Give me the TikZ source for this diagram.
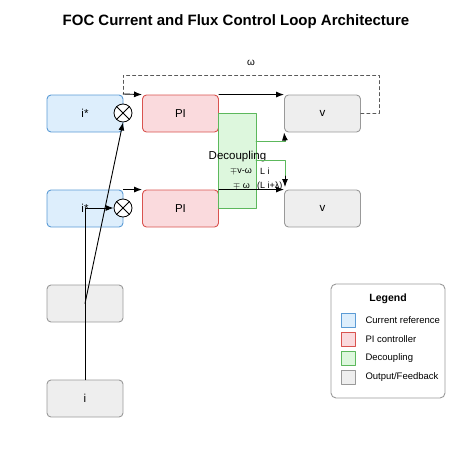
\documentclass[tikz,border=0pt]{standalone}
\usepackage{fontspec}
\setmainfont{Liberation Sans}
\usetikzlibrary{arrows,arrows.meta}

\definecolor{refFill}{HTML}{DDEEFC}
\definecolor{refLine}{HTML}{5B9BD5}
\definecolor{piFill}{HTML}{FADADD}
\definecolor{piLine}{HTML}{D9534F}
\definecolor{decFill}{HTML}{DDF7DD}
\definecolor{decLine}{HTML}{5CB85C}
\definecolor{outFill}{HTML}{EEEEEE}
\definecolor{outLine}{HTML}{999999}

\tikzset{
  box/.style={draw, rounded corners=4pt, minimum width=76pt, minimum height=37pt, inner sep=0pt, line width=0.9pt, font=\fontsize{11.5}{13}\selectfont},
  refbox/.style={box, draw=refLine, fill=refFill},
  pibox/.style={box, draw=piLine, fill=piFill},
  outbox/.style={box, draw=outLine, fill=outFill},
  decbox/.style={draw=decLine, fill=decFill, line width=0.9pt, minimum width=38pt, minimum height=95pt, inner sep=0pt},
  swatch/.style={draw, line width=0.9pt, minimum size=14pt, inner sep=0pt},
  mult/.style={circle, draw, fill=white, minimum size=18pt, inner sep=0pt, line width=0.8pt},
  arr/.style={-{Latex[length=8pt,width=6pt]}, line width=0.9pt},
  small/.style={font=\fontsize{9}{10}\selectfont, inner sep=1pt},
  legtext/.style={anchor=west, font=\fontsize{9.5}{11}\selectfont},
}

\begin{document}
\begin{tikzpicture}[x=1pt, y=-1pt, line cap=round, line join=round]

\useasboundingbox (0,0) rectangle (474,474);

% title
\node[font=\bfseries\fontsize{15}{17}\selectfont] (title) at (236,22) {FOC Current and Flux Control Loop Architecture};

% top row
\node[refbox] (ref1) at (85,113.5) {i*};
\node[pibox]  (pi1)  at (180.5,113.5) {PI};
\node[outbox] (out1) at (322.5,113.5) {v};

% bottom row
\node[refbox] (ref2) at (85,208.5) {i*};
\node[pibox]  (pi2)  at (180.5,208.5) {PI};
\node[outbox] (out2) at (322.5,208.5) {v};

% feedback path
\node[outbox] (fb)   at (85,303.5) {};
\node[outbox] (meas) at (85,398.5) {i};

% decoupling
\node[decbox] (dec) at (237,160.5) {};
\node[font=\fontsize{11.5}{13}\selectfont] (declabel) at (237.5,157) {Decoupling};
\node[small, anchor=west] (deca) at (229,171) {$\mp$v-ω};
\node[small, anchor=west] (decb) at (259,171) {L i};
\node[small, anchor=west] (decc) at (232,186) {$\mp$ ω};
\node[small, anchor=west] (decd) at (256,186) {(L i+λ)};

% multipliers
\node[mult] (mult1) at (123,113) {};
\node[mult] (mult2) at (123,208) {};
\draw[line width=0.8pt] (mult1.north west) -- (mult1.south east) (mult1.north east) -- (mult1.south west);
\draw[line width=0.8pt] (mult2.north west) -- (mult2.south east) (mult2.north east) -- (mult2.south west);

% omega feedback
\coordinate (wturn) at (123,94);
\draw[dashed, line width=1pt, black!65] (out1.east) -- (379,113.5) -- (379,75) -- (123,75) -- (wturn);
\node[font=\fontsize{10}{12}\selectfont] (wlabel) at (251,63) {ω};
\draw[arr] (wturn) -- (pi1.north west);

% forward paths
\draw[arr] (pi1.north east) -- (out1.north west);
\draw[arr] (ref2.north east) -- (pi2.north west);
\draw[arr] (pi2.north east) -- (out2.north west);

% decoupling outputs
\coordinate (dectop) at (256,141);
\coordinate (decbot) at (256,160);
\coordinate (decend) at (285,187);
\draw[decLine, line width=0.9pt] (dectop) -- (285,141) -- (285,138);
\draw[arr] (285,141) -- (out1.south west);
\draw[decLine, line width=0.9pt] (decbot) -- (285,160) -- (285,178);
\draw[arr] (285,176) -- (decend);

% measured current
\draw[arr] (meas.north) -- (85,208) -- (mult2.west);
\draw[arr] (fb.center) -- (mult1.south);

% legend
\node[draw=outLine, rounded corners=5pt, line width=0.9pt, minimum width=114pt, minimum height=114pt] (legend) at (388,341) {};
\node[font=\bfseries\fontsize{10.5}{12}\selectfont] (legtitle) at (388,299) {Legend};
\node[swatch, draw=refLine, fill=refFill] (sw1) at (348,320) {};
\node[swatch, draw=piLine, fill=piFill]   (sw2) at (348,339) {};
\node[swatch, draw=decLine, fill=decFill] (sw3) at (348,358) {};
\node[swatch, draw=outLine, fill=outFill] (sw4) at (348,377) {};
\node[legtext] (lt1) at (362,320) {Current reference};
\node[legtext] (lt2) at (362,339) {PI controller};
\node[legtext] (lt3) at (362,358) {Decoupling};
\node[legtext] (lt4) at (362,377) {Output/Feedback};

\end{tikzpicture}
\end{document}
